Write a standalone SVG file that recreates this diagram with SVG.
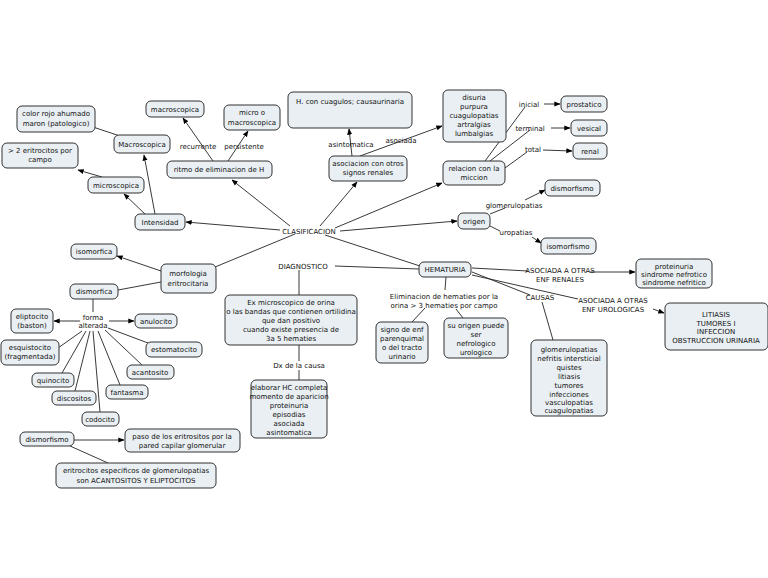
<svg xmlns="http://www.w3.org/2000/svg" width="768" height="578" viewBox="0 0 768 578">
<defs>
<marker id="a" viewBox="0 0 10 10" refX="9" refY="5" markerWidth="7" markerHeight="7" orient="auto"><path d="M0,1 L10,5 L0,9 z" fill="#000"/></marker>
<style>
rect{fill:#e9eff3;stroke:#333;stroke-width:1}
text{font-family:"DejaVu Sans",sans-serif;font-size:7px;fill:#111;text-anchor:middle}
.c line,.c polyline{stroke:#222;stroke-width:0.9;fill:none}
.ar{marker-end:url(#a)}
</style>
</defs>
<rect x="0" y="0" width="768" height="578" style="fill:#fff;stroke:none"/>
<g class="c">
<line class="ar" x1="280" y1="230" x2="186" y2="222"/>
<line class="ar" x1="290" y1="226" x2="232" y2="180"/>
<line class="ar" x1="320" y1="226" x2="357" y2="182"/>
<line class="ar" x1="335" y1="228" x2="442" y2="183"/>
<line class="ar" x1="340" y1="231" x2="457" y2="221"/>
<line x1="325" y1="235" x2="420" y2="266"/>
<line x1="295" y1="234" x2="215" y2="267"/>
<line class="ar" x1="155" y1="214" x2="144" y2="155"/>
<line class="ar" x1="145" y1="214" x2="124" y2="194"/>
<line x1="120" y1="136" x2="93" y2="127"/>
<line class="ar" x1="102" y1="177" x2="78" y2="170"/>
<line class="ar" x1="213" y1="161" x2="183" y2="118"/>
<line class="ar" x1="228" y1="161" x2="248" y2="131"/>
<line class="ar" x1="352" y1="156" x2="349" y2="129"/>
<line class="ar" x1="360" y1="156" x2="442" y2="126"/>
<line x1="485" y1="161" x2="525" y2="107"/>
<line x1="490" y1="161" x2="530" y2="130"/>
<line x1="505" y1="168" x2="527" y2="152"/>
<line class="ar" x1="544" y1="104" x2="560" y2="104"/>
<line class="ar" x1="551" y1="128" x2="570" y2="128"/>
<line class="ar" x1="543" y1="150" x2="572" y2="151"/>
<line x1="490" y1="214" x2="505" y2="208"/>
<line class="ar" x1="525" y1="200" x2="545" y2="190"/>
<line x1="490" y1="226" x2="500" y2="231"/>
<line class="ar" x1="532" y1="237" x2="541" y2="243"/>
<line x1="335" y1="266" x2="419" y2="269"/>
<line x1="299" y1="270" x2="299" y2="295"/>
<line x1="299" y1="345" x2="299" y2="361"/>
<line x1="299" y1="370" x2="299" y2="380"/>
<line x1="472" y1="268" x2="528" y2="271"/>
<line class="ar" x1="590" y1="272" x2="635" y2="272"/>
<line x1="472" y1="272" x2="530" y2="295"/>
<line x1="472" y1="275" x2="578" y2="299"/>
<line class="ar" x1="653" y1="309" x2="664" y2="313"/>
<line x1="542" y1="302" x2="553" y2="340"/>
<line x1="446" y1="277" x2="445" y2="290"/>
<line x1="425" y1="308" x2="412" y2="322"/>
<line x1="456" y1="309" x2="463" y2="318"/>
<line class="ar" x1="161" y1="271" x2="117" y2="256"/>
<line x1="161" y1="282" x2="118" y2="290"/>
<line x1="93" y1="299" x2="93" y2="312"/>
<line class="ar" x1="80" y1="321" x2="54" y2="321"/>
<line class="ar" x1="109" y1="321" x2="134" y2="321"/>
<line x1="108" y1="328" x2="148" y2="343"/>
<line x1="105" y1="330" x2="142" y2="365"/>
<line x1="98" y1="331" x2="120" y2="385"/>
<line x1="93" y1="331" x2="100" y2="412"/>
<line x1="90" y1="331" x2="75" y2="391"/>
<line x1="86" y1="331" x2="62" y2="373"/>
<line x1="82" y1="331" x2="58" y2="348"/>
<line class="ar" x1="74" y1="440" x2="124" y2="440"/>
<line x1="70" y1="446" x2="108" y2="463"/>
</g>
<g id="labels">
<text x="309" y="234">CLASIFICACION</text>
<text x="303" y="269">DIAGNOSTICO</text>
<text x="198" y="149">recurrente</text>
<text x="244" y="149">persistente</text>
<text x="351" y="147">asintomatica</text>
<text x="401" y="143">asociada</text>
<text x="529" y="107">inicial</text>
<text x="530" y="131">terminal</text>
<text x="533" y="152">total</text>
<text x="514" y="208">glomerulopatias</text>
<text x="516" y="235">uropatias</text>
<text x="93" y="320">forma</text>
<text x="93" y="328">alterada</text>
<text x="560" y="273">ASOCIADA A OTRAS</text>
<text x="560" y="282">ENF RENALES</text>
<text x="540" y="300">CAUSAS</text>
<text x="613" y="303">ASOCIADA A OTRAS</text>
<text x="613" y="312">ENF UROLOGICAS</text>
<text x="444" y="299">Eliminacion de hematies por la</text>
<text x="444" y="308">orina &gt; 3 hematies por campo</text>
<text x="299" y="368">Dx de la causa</text>
</g>
<g id="n1"><rect x="17" y="106" width="78" height="26" rx="5"/><text x="56" y="116">color rojo ahumado</text><text x="56" y="126">maron (patologico)</text></g>
<g id="n2"><rect x="114" y="135" width="56" height="18" rx="5"/><text x="142" y="147">Macroscopica</text></g>
<g id="n3"><rect x="2" y="143" width="76" height="25" rx="5"/><text x="40" y="153">&gt; 2 eritrocitos por</text><text x="40" y="162">campo</text></g>
<g id="n4"><rect x="88" y="177" width="56" height="16" rx="5"/><text x="116" y="188">microscopica</text></g>
<g id="n5"><rect x="135" y="214" width="50" height="16" rx="5"/><text x="160" y="225">Intensidad</text></g>
<g id="n6"><rect x="146" y="101" width="58" height="16" rx="5"/><text x="175" y="112">macroscopica</text></g>
<g id="n7"><rect x="224" y="105" width="56" height="25" rx="5"/><text x="252" y="115">micro o</text><text x="252" y="125">macroscopica</text></g>
<g id="n8"><rect x="167" y="161" width="105" height="17" rx="5"/><text x="219" y="172">ritmo de eliminacion de H</text></g>
<g id="n9"><rect x="288" y="92" width="124" height="36" rx="5"/><text x="350" y="104">H. con cuagulos; causaurinaria</text></g>
<g id="n10"><rect x="329" y="156" width="78" height="25" rx="5"/><text x="368" y="166">asociacion con otros</text><text x="368" y="175">signos renales</text></g>
<g id="n11"><rect x="443" y="90" width="63" height="52" rx="5"/><text x="474" y="100">disuria</text><text x="474" y="109">purpura</text><text x="474" y="118">cuagulopatias</text><text x="474" y="127">artralgias</text><text x="474" y="136">lumbalgias</text></g>
<g id="n12"><rect x="443" y="161" width="62" height="24" rx="5"/><text x="474" y="171">relacion con la</text><text x="474" y="180">miccion</text></g>
<g id="n13"><rect x="561" y="96" width="46" height="16" rx="5"/><text x="584" y="107">prostatico</text></g>
<g id="n14"><rect x="571" y="120" width="36" height="16" rx="5"/><text x="589" y="131">vesical</text></g>
<g id="n15"><rect x="573" y="143" width="34" height="16" rx="5"/><text x="590" y="154">renal</text></g>
<g id="n16"><rect x="545" y="180" width="55" height="16" rx="5"/><text x="572" y="191">dismorfismo</text></g>
<g id="n17"><rect x="458" y="213" width="32" height="16" rx="5"/><text x="474" y="224">origen</text></g>
<g id="n18"><rect x="541" y="238" width="55" height="16" rx="5"/><text x="568" y="249">isomorfismo</text></g>
<g id="n19"><rect x="419" y="262" width="52" height="15" rx="5"/><text x="445" y="272">HEMATURIA</text></g>
<g id="n20"><rect x="636" y="259" width="76" height="29" rx="5"/><text x="674" y="269">proteinuria</text><text x="674" y="277">sindrome nefrotico</text><text x="674" y="285">sindrome nefritico</text></g>
<g id="n21"><rect x="665" y="303" width="103" height="47" rx="5"/><text x="716" y="317">LITIASIS</text><text x="716" y="326">TUMORES I</text><text x="716" y="334">INFECCION</text><text x="716" y="343">OBSTRUCCION URINARIA</text></g>
<g id="n22"><rect x="531" y="340" width="76" height="76" rx="5"/><text x="569" y="352">glomerulopatias</text><text x="569" y="361">nefritis intersticial</text><text x="569" y="370">quistes</text><text x="569" y="379">litiasis</text><text x="569" y="388">tumores</text><text x="569" y="397">infecciones</text><text x="569" y="405">vasculopatias</text><text x="569" y="413">cuagulopatias</text></g>
<g id="n23"><rect x="444" y="318" width="64" height="40" rx="5"/><text x="476" y="328">su origen puede</text><text x="476" y="337">ser</text><text x="476" y="346">nefrologico</text><text x="476" y="355">urologico</text></g>
<g id="n24"><rect x="376" y="322" width="52" height="41" rx="5"/><text x="402" y="332">signo de enf</text><text x="402" y="341">parenquimal</text><text x="402" y="350">o del tracto</text><text x="402" y="359">urinario</text></g>
<g id="n25"><rect x="225" y="295" width="132" height="50" rx="5"/><text x="291" y="305">Ex microscopico de orina</text><text x="291" y="314">o las bandas que contienen ortilidina</text><text x="291" y="323">que dan positivo</text><text x="291" y="332">cuando existe presencia de</text><text x="291" y="341">3a 5 hematies</text></g>
<g id="n26"><rect x="251" y="380" width="76" height="58" rx="5"/><text x="289" y="390">elaborar HC completa</text><text x="289" y="399">momento de aparicion</text><text x="289" y="408">proteinuria</text><text x="289" y="417">episodias</text><text x="289" y="426">asociada</text><text x="289" y="435">asintomatica</text></g>
<g id="n27"><rect x="71" y="244" width="46" height="15" rx="5"/><text x="94" y="254">isomorfica</text></g>
<g id="n28"><rect x="161" y="264" width="55" height="29" rx="5"/><text x="188" y="276">morfologia</text><text x="188" y="286">eritrocitaria</text></g>
<g id="n29"><rect x="70" y="284" width="48" height="15" rx="5"/><text x="94" y="294">dismorfica</text></g>
<g id="n30"><rect x="11" y="309" width="42" height="24" rx="5"/><text x="32" y="319">eliptocito</text><text x="32" y="328">(baston)</text></g>
<g id="n31"><rect x="135" y="314" width="42" height="14" rx="5"/><text x="156" y="324">anulocito</text></g>
<g id="n32"><rect x="1" y="340" width="58" height="25" rx="5"/><text x="30" y="350">esquistocito</text><text x="30" y="359">(fragmentada)</text></g>
<g id="n33"><rect x="146" y="342" width="56" height="15" rx="5"/><text x="174" y="352">estomatocito</text></g>
<g id="n34"><rect x="127" y="365" width="47" height="14" rx="5"/><text x="150" y="375">acantosito</text></g>
<g id="n35"><rect x="32" y="373" width="42" height="14" rx="5"/><text x="53" y="383">quinocito</text></g>
<g id="n36"><rect x="106" y="385" width="42" height="14" rx="5"/><text x="127" y="395">fantasma</text></g>
<g id="n37"><rect x="52" y="391" width="44" height="14" rx="5"/><text x="74" y="401">discositos</text></g>
<g id="n38"><rect x="82" y="412" width="37" height="14" rx="5"/><text x="100" y="422">codocito</text></g>
<g id="n39"><rect x="20" y="432" width="54" height="14" rx="5"/><text x="47" y="442">dismorfismo</text></g>
<g id="n40"><rect x="125" y="429" width="115" height="23" rx="5"/><text x="182" y="439">paso de los eritrositos por la</text><text x="182" y="448">pared capilar glomerular</text></g>
<g id="n41"><rect x="56" y="463" width="160" height="25" rx="5"/><text x="136" y="473">eritrocitos especificos de glomerulopatias</text><text x="136" y="483">son ACANTOSITOS Y ELIPTOCITOS</text></g>
</svg>
